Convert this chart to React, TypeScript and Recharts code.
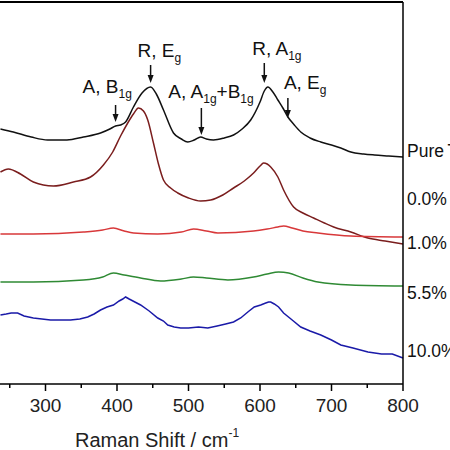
import { LineChart, Line, XAxis, YAxis, ReferenceDot } from "recharts";

// Raman shift (cm-1) and intensity (a.u., stacked with offsets) per sample
const pureShift = [237, 255, 280, 303, 330, 353, 377, 390, 398, 405, 412, 423, 435, 447, 455, 465, 479, 490, 499, 508, 517, 525, 535, 550, 563, 575, 587, 600, 606, 611, 618, 625, 632, 639, 648, 657, 670, 685, 700, 713, 727, 745, 760, 780, 800];
const pureCounts = [255, 252, 247, 244, 244, 247, 251, 255, 258, 259, 262, 277, 291, 297, 290, 274, 251, 245, 242, 244, 247, 245, 244, 246, 249, 255, 264, 282, 293, 297, 292, 284, 276, 267, 259, 252, 246, 242, 239, 236, 232, 230, 229, 228, 227];

const ce00Shift = [237, 248, 265, 283, 311, 339, 363, 381, 394, 405, 415, 423, 430, 437, 443, 451, 458, 465, 475, 485, 500, 517, 531, 548, 563, 578, 591, 600, 605, 610, 615, 625, 633, 647, 660, 675, 690, 703, 727, 751, 775, 800];
const ce00Counts = [212, 215, 210, 202, 198, 202, 207, 219, 232, 248, 261, 270, 276, 273, 264, 241, 220, 204, 196, 191, 186, 183, 184, 189, 196, 203, 211, 218, 221, 220, 217, 207, 194, 177, 171, 166, 161, 157, 152, 146, 143, 140];

const ce10Shift = [237, 283, 353, 380, 395, 410, 423, 457, 490, 507, 525, 541, 591, 610, 625, 633, 645, 660, 681, 727, 800];
const ce10Counts = [150, 150, 152, 154, 156, 153, 151, 150, 152, 155, 153, 151, 153, 155, 157, 158, 156, 153, 151, 148, 147];

const ce55Shift = [237, 283, 353, 380, 395, 410, 433, 461, 490, 507, 525, 555, 591, 610, 626, 640, 660, 681, 727, 800];
const ce55Counts = [102, 102, 104, 107, 111, 109, 106, 103, 105, 107, 106, 104, 107, 110, 112, 111, 106, 102, 99, 98];

const ce100Shift = [237, 245, 252, 261, 270, 283, 295, 307, 320, 335, 348, 359, 368, 377, 386, 395, 403, 408, 412, 417, 425, 433, 445, 457, 465, 471, 480, 489, 500, 514, 527, 540, 552, 563, 573, 583, 592, 601, 608, 612, 615, 620, 626, 633, 645, 657, 670, 685, 700, 713, 730, 751, 770, 785, 800];
const ce100Counts = [69, 70, 71, 71, 68, 66, 65, 64, 64, 64, 65, 67, 70, 74, 77, 79, 83, 85, 87, 85, 82, 79, 73, 66, 63, 59, 57, 56, 56, 57, 56, 58, 60, 62, 66, 72, 77, 79, 81, 82, 82, 80, 77, 71, 64, 57, 53, 49, 44, 39, 36, 32, 30, 30, 26];

// sample labels on the right-hand axis
const sampleTicks = [234, 186, 142, 92, 34];
const sampleLabels = ["Pure\u2009TiO\u2082", "0.0%", "1.0%", "5.5%", "10.0%"];

// x ticks (every 50, labelled every 100)
const shiftTicks = [250, 300, 350, 400, 450, 500, 550, 600, 650, 700, 750, 800];

// band assignments: arrow tip position and label parts (text, subscript)
const bandShift = [398, 447, 518, 606, 639];
const bandCounts = [262, 301, 249, 301, 266];
const bandLabels: [string, string][][] = [
  [["A, B", "1g"]],
  [["R, E", "g"]],
  [["A, A", "1g"], ["+B", "1g"]],
  [["R, A", "1g"]],
  [["A, E", "g"]],
];
// label placement relative to arrow tip: [dx, dy, arrow length]
const bandLayout = [
  [-33, -29, 17],
  [-13, -26, 18],
  [-33, -37, 27],
  [-12, -28, 20],
  [-4, -29, 20],
];

const zip = (xs: number[], ys: number[]) => xs.map((x, i) => ({ shift: x, counts: ys[i] }));

const series = [
  { key: "pure", color: "#111111", data: zip(pureShift, pureCounts), type: "monotone" },
  { key: "ce00", color: "#7a1d1d", data: zip(ce00Shift, ce00Counts), type: "monotone" },
  { key: "ce10", color: "#d8383a", data: zip(ce10Shift, ce10Counts), type: "monotone" },
  { key: "ce55", color: "#2f8a34", data: zip(ce55Shift, ce55Counts), type: "monotone" },
  { key: "ce100", color: "#1a1aa8", data: zip(ce100Shift, ce100Counts), type: "linear" },
];

const FONT = "Arial, 'Liberation Sans', sans-serif";

const ShiftTick = (props: any) => {
  const { x, y, payload } = props;
  const major = payload.value % 100 === 0;
  return (
    <g>
      <line x1={x} x2={x} y1={y} y2={y + (major ? 7 : 4)} stroke="#000" strokeWidth={1.5} />
      {major && (
        <text x={x} y={y + 28} textAnchor="middle" fontSize={19} fontFamily={FONT} fill="#222">
          {payload.value}
        </text>
      )}
    </g>
  );
};

const SampleTick = (props: any) => {
  const { x, y, payload } = props;
  const label = sampleLabels[sampleTicks.indexOf(payload.value)] ?? "";
  return (
    <text x={x} y={y} dy={7} fontSize={17.5} fontFamily={FONT} fill="#111">
      {label}
    </text>
  );
};

const AxisTitle = (props: any) => {
  const { viewBox } = props;
  return (
    <text x={viewBox.x + 101} y={viewBox.y + 63} fontSize={20} fontFamily={FONT} fill="#222">
      Raman Shift / cm
      <tspan fontSize={12} dy={-10}>-1</tspan>
    </text>
  );
};

const bandArrow = (idx: number) => (props: any) => {
  const { cx, cy } = props;
  const [dx, dy, len] = bandLayout[idx];
  return (
    <g>
      <line x1={cx} x2={cx} y1={cy - len} y2={cy - 6} stroke="#111" strokeWidth={1.5} />
      <polygon points={`${cx - 3},${cy - 8} ${cx + 3},${cy - 8} ${cx},${cy}`} fill="#111" />
      <text x={cx + dx} y={cy + dy} fontSize={19} fontFamily={FONT} fill="#111">
        {bandLabels[idx].map(([main, sub], i) => (
          <tspan key={i}>
            <tspan dy={i === 0 ? 0 : -5}>{main}</tspan>
            <tspan fontSize={12} dy={5}>{sub}</tspan>
          </tspan>
        ))}
      </text>
    </g>
  );
};

export default function App() {
  return (
    <div style={{ position: "absolute", left: -40, top: 0, width: 490, height: 450 }}>
      <LineChart width={490} height={450} margin={{ top: 2, right: 7, bottom: 0, left: 14 }}>
        <XAxis
          type="number"
          dataKey="shift"
          domain={[200, 800]}
          ticks={shiftTicks}
          interval={0}
          allowDuplicatedCategory={false}
          height={66}
          tickSize={0}
          tickMargin={0}
          tickLine={false}
          tick={<ShiftTick />}
          axisLine={{ stroke: "#000", strokeWidth: 1.5 }}
          label={AxisTitle}
        />
        <YAxis
          orientation="right"
          type="number"
          domain={[0, 382]}
          ticks={sampleTicks}
          interval={0}
          width={40}
          tickSize={2}
          tickMargin={2}
          tickLine={false}
          axisLine={{ stroke: "#000", strokeWidth: 1.5 }}
          tick={<SampleTick />}
        />
        {series.map((s) => (
          <Line
            key={s.key}
            data={s.data}
            dataKey="counts"
            type={s.type as any}
            stroke={s.color}
            strokeWidth={1.5}
            dot={false}
            activeDot={false}
            isAnimationActive={false}
          />
        ))}
        {bandShift.map((x, i) => (
          <ReferenceDot key={i} x={x} y={bandCounts[i]} r={0} shape={bandArrow(i)} ifOverflow="visible" />
        ))}
      </LineChart>
      {/* top edge of the plot frame */}
      <div
        style={{
          position: "absolute",
          left: 0,
          top: 1,
          width: 443,
          height: 2,
          background: "#000",
          zIndex: 10,
        }}
      />
    </div>
  );
}
